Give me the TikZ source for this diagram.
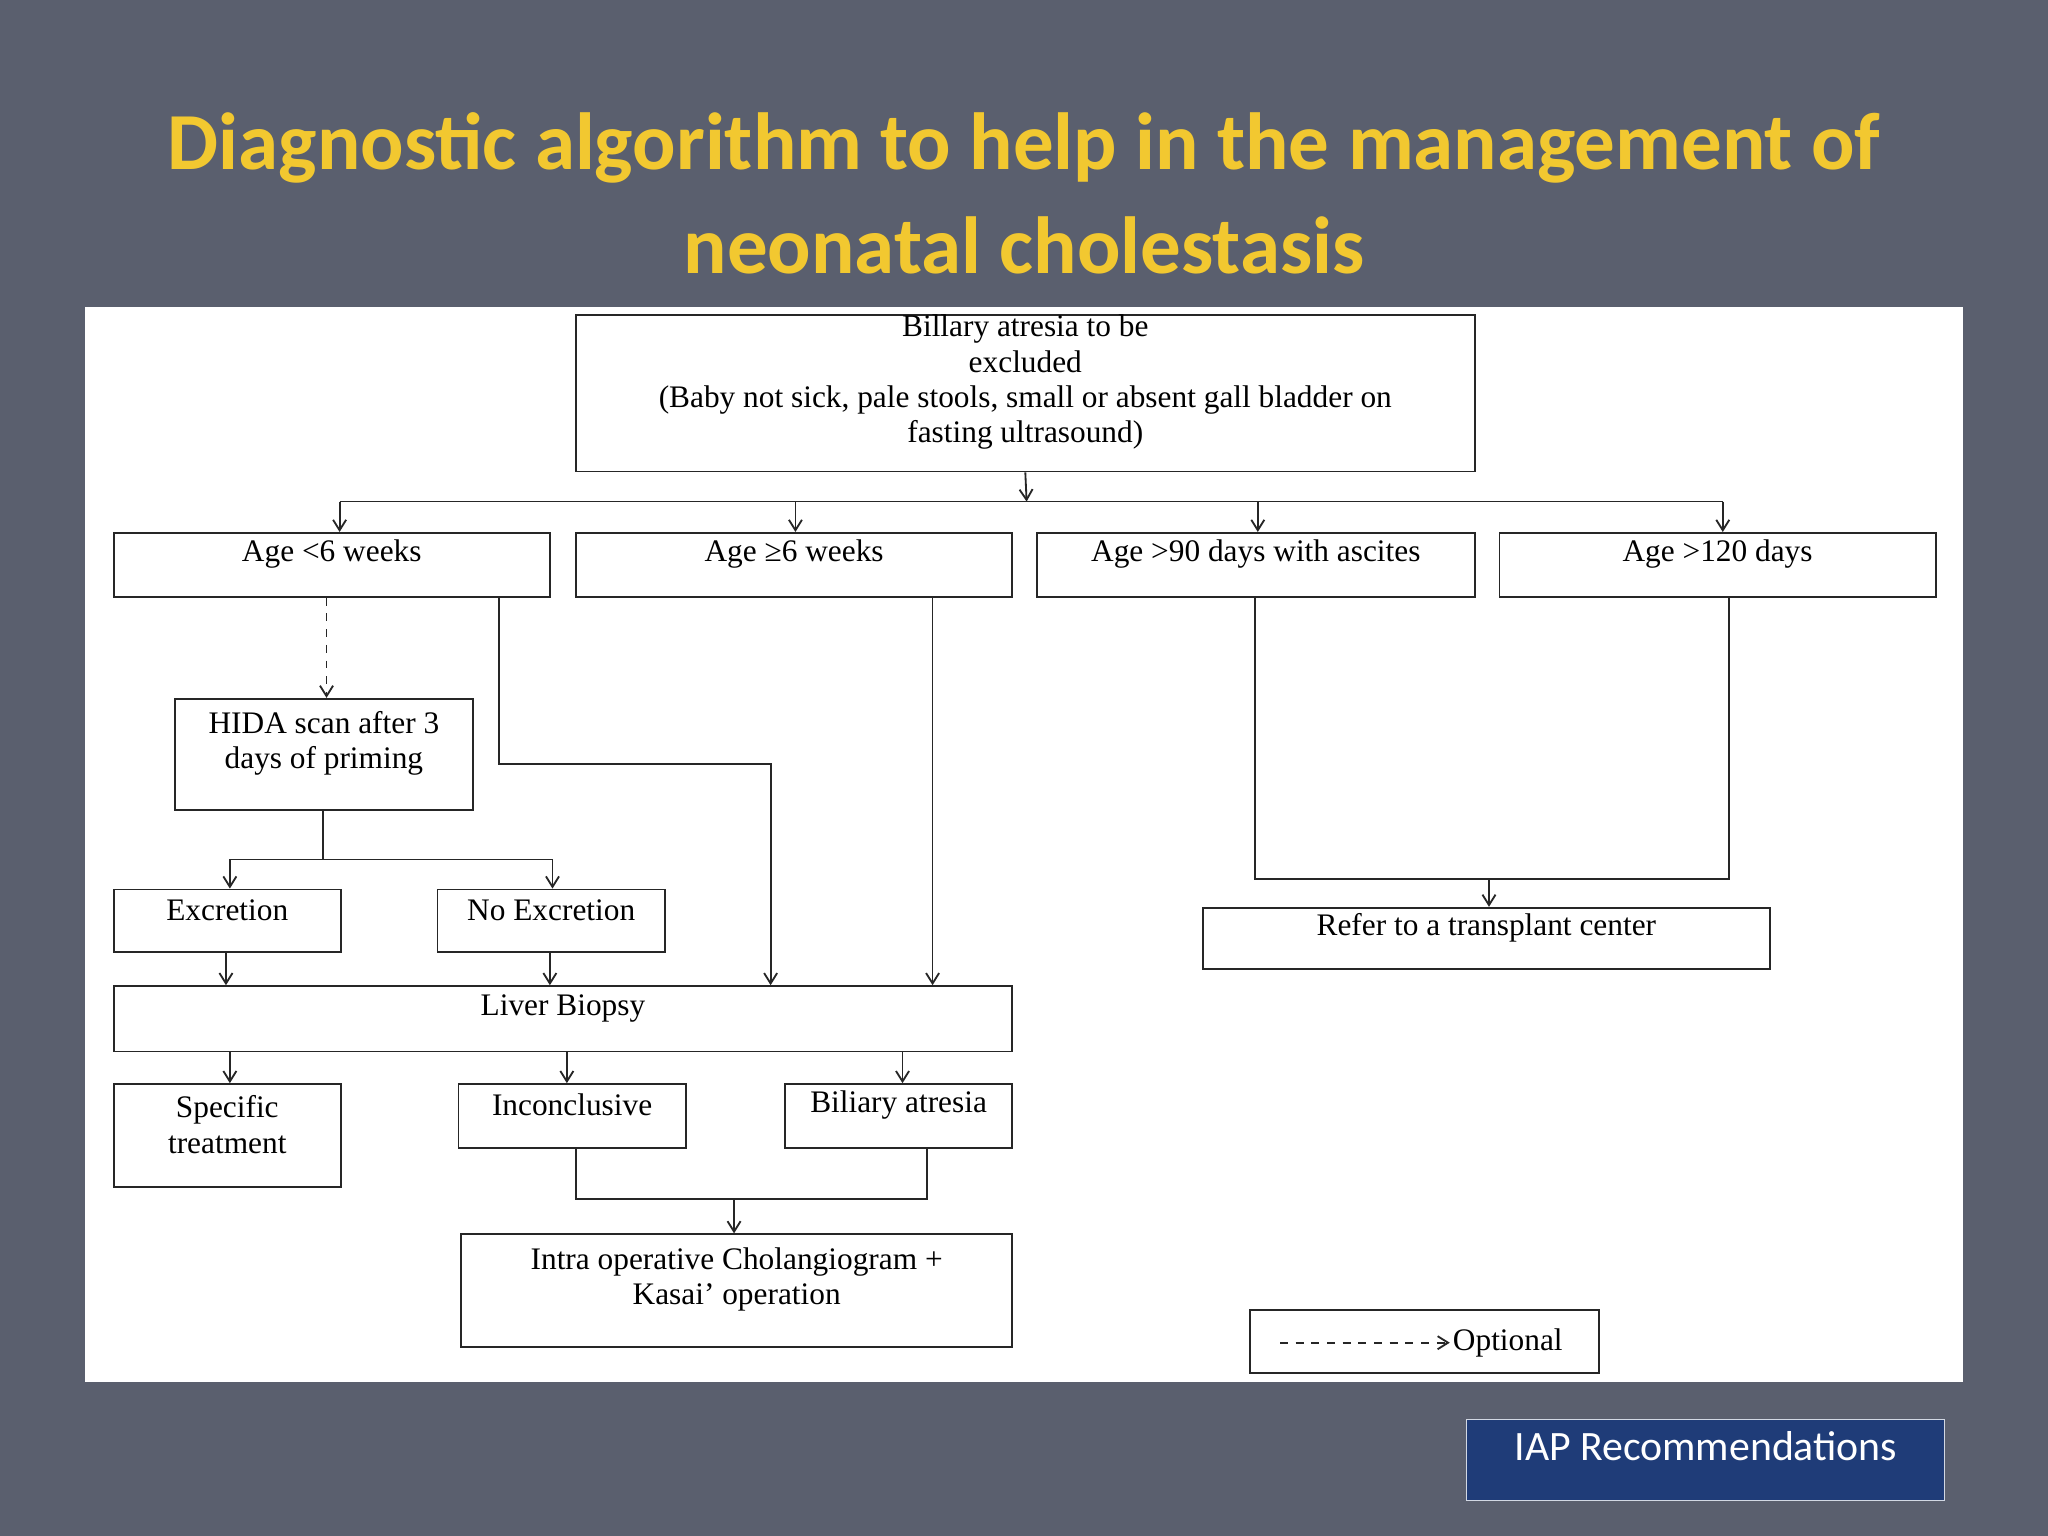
\documentclass[tikz,border=0pt]{standalone}
\usepackage{fontspec}
\setmainfont{Liberation Serif}
\newfontfamily\titlefont{Carlito}
\usetikzlibrary{fit,arrows.meta}
\definecolor{bg}{HTML}{5A5F6E}
\definecolor{ttl}{HTML}{F2C830}
\definecolor{navy}{HTML}{1F3C78}
\begin{document}
\begin{tikzpicture}[x=0.5pt,y=-0.5pt,
  box/.style={draw=black!85,line width=0.7pt,inner sep=0pt,align=center,font=\fontsize{12}{13.5}\selectfont},
  ln/.style={draw=black!85,line width=0.7pt},
  ar/.style={ln,-{Straight Barb[length=4pt,width=5pt]}}]
\fill[bg] (0,0) rectangle (1568,1176);
\useasboundingbox (0,0) rectangle (1568,1176);
\node[text=ttl,font=\titlefont\bfseries\fontsize{31}{40}\selectfont,align=center] (title) at (784,148)
 {Diagnostic algorithm to help in the management of\\neonatal cholestasis};
\fill[white] (65,235) rectangle (1503,1058);
\node[box,fit={(441,241)(1129,361)}] (top) {Billary atresia to be\\excluded\\(Baby not sick, pale stools, small or absent gall bladder on\\fasting ultrasound)};
\node[box,fit={(87,408)(421,457)}] (a1) {Age <6 weeks};
\node[box,fit={(441,408)(775,457)}] (a2) {Age ≥6 weeks};
\node[box,fit={(794,408)(1129,457)}] (a3) {Age >90 days with ascites};
\node[box,fit={(1148,408)(1482,457)}] (a4) {Age >120 days};
\node[box,fit={(134,535)(362,620)}] (hida) {HIDA scan after 3\\days of priming};
\node[box,fit={(87,681)(261,729)}] (exc) {Excretion};
\node[box,fit={(335,681)(509,729)}] (noexc) {No Excretion};
\node[box,fit={(87,755)(775,805)}] (lb) {Liver Biopsy};
\node[box,fit={(87,830)(261,909)}] (spec) {Specific\\treatment};
\node[box,fit={(351,830)(525,879)}] (inc) {Inconclusive};
\node[box,fit={(601,830)(775,879)}] (ba) {Biliary atresia};
\node[box,fit={(353,945)(775,1031)}] (kasai) {Intra operative Cholangiogram +\\Kasai' operation};
\node[box,fit={(921,695)(1355,742)}] (refer) {Refer to a transplant center};
\node[box,fit={(957,1003)(1224,1051)}] (leg) {};
\coordinate (ls) at (980,1028);
\coordinate (le) at (1110,1028);
\node[font=\fontsize{12}{13}\selectfont,anchor=west,inner sep=0pt] (opt) at (1112,1028) {Optional};
\draw[ar,dashed] (ls) -- (le);
\node[draw=white!80!navy,fill=navy,text=white,font=\titlefont\fontsize{16}{18}\selectfont,inner sep=0pt,fit={(1123,1087)(1489,1149)}] (iap) {IAP Recommendations};
% top split
\draw[ar] (top.south) -- (786,384);
\draw[ln] (260,384) -- (1319,384);
\foreach \x/\n in {260/a1,609/a2,963/a3,1319/a4} \draw[ar] (\x,384) -- (\n.north -| \x,0);
\draw[ar,dashed] (a1.south -| 250,0) -- (hida.north -| 250,0);
\draw[ar] (a1.south -| 382,0) -- (382,585) -- (590,585) -- (lb.north -| 590,0);
\draw[ar] (a2.south -| 714,0) -- (lb.north -| 714,0);
\draw[ln] (hida.south -| 247,0) -- (247,658);
\draw[ln] (176,658) -- (423,658);
\draw[ar] (176,658) -- (exc.north -| 176,0);
\draw[ar] (423,658) -- (noexc.north -| 423,0);
\draw[ar] (exc.south -| 173,0) -- (lb.north -| 173,0);
\draw[ar] (noexc.south -| 421,0) -- (lb.north -| 421,0);
\draw[ar] (lb.south -| 176,0) -- (spec.north -| 176,0);
\draw[ar] (lb.south -| 434,0) -- (inc.north -| 434,0);
\draw[ar] (lb.south -| 691,0) -- (ba.north -| 691,0);
\draw[ln] (inc.south -| 441,0) -- (441,918) -- (710,918) -- (ba.south -| 710,0);
\draw[ar] (562,918) -- (kasai.north -| 562,0);
\draw[ln] (a3.south -| 961,0) -- (961,673) -- (1324,673) -- (a4.south -| 1324,0);
\draw[ar] (1140,673) -- (refer.north -| 1140,0);
\end{tikzpicture}
\end{document}
